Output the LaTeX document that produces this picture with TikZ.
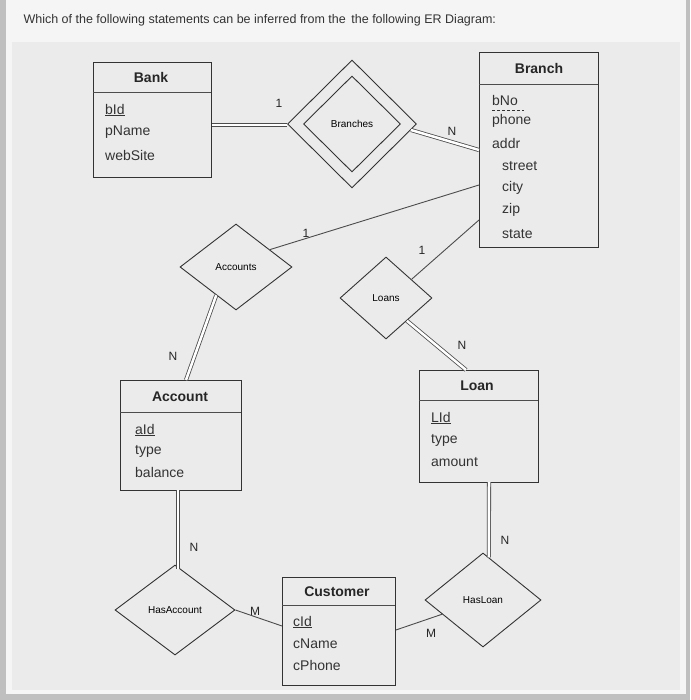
\documentclass[tikz,border=0pt]{standalone}
\usepackage{fontspec}
\setmainfont{Liberation Sans}
\usetikzlibrary{shapes.geometric,calc}
\begin{document}
\begin{tikzpicture}[x=1pt,y=-1pt,
  ent/.style={draw=black!80,line width=0.9pt,anchor=north west,inner sep=0pt},
  rel/.style={diamond,draw=black!80,line width=0.9pt,inner sep=0pt,font=\fontsize{10}{11}\selectfont},
  ttl/.style={font=\fontsize{14}{16}\selectfont\bfseries,text=black!85},
  att/.style={font=\fontsize{14}{16}\selectfont,text=black!80,anchor=west,inner sep=0pt},
  lab/.style={font=\fontsize{12}{13}\selectfont,text=black!85},
  ln/.style={draw=black!70,line width=0.9pt},
  dbl/.style={draw=black!70,line width=0.8pt,double=white,double distance=2.5pt}]
\useasboundingbox (0,0) rectangle (690,700);
\fill[black!25] (0,0) rectangle (690,700);
\fill[white!96!black] (6,0) rectangle (686,694);
\fill[white!92!black] (12,42) rectangle (680,690);
\node[anchor=west,font=\fontsize{12.5}{14}\selectfont,text=black!80] (q) at (20,20) {Which of the following statements can be inferred from the\, the following ER Diagram:};
% Entities
\node[ent,minimum width=118,minimum height=115] (bank) at (93,62) {};
\draw[ln] (93,92) -- (211,92);
\node[ttl] (bankt) at (151,77) {Bank};
\node[att] (b1) at (105,110) {\underline{bId}};
\node[att] (b2) at (105,132) {pName};
\node[att] (b3) at (105,155) {webSite};
\node[ent,minimum width=119,minimum height=195] (branch) at (479,52) {};
\draw[ln] (479,84) -- (598,84);
\node[ttl] (brt) at (539,68) {Branch};
\node[att] (r1) at (492,100) {bNo};
\draw[black!80,dash pattern=on 3pt off 2pt,line width=0.7pt] (492,110) -- (524,110);
\node[att] (r2) at (492,121) {phone};
\node[att] (r3) at (492,143) {addr};
\node[att] (r4) at (502,166) {street};
\node[att] (r5) at (502,188) {city};
\node[att] (r6) at (502,210) {zip};
\node[att] (r7) at (502,234) {state};
\node[ent,minimum width=121,minimum height=110] (account) at (120,380) {};
\draw[ln] (120,412) -- (241,412);
\node[ttl] (acct) at (180,397) {Account};
\node[att] (a1) at (135,430) {\underline{aId}};
\node[att] (a2) at (135,451) {type};
\node[att] (a3) at (135,472) {balance};
\node[ent,minimum width=119,minimum height=112] (loan) at (419,370) {};
\draw[ln] (419,400) -- (538,400);
\node[ttl] (loant) at (477,386) {Loan};
\node[att] (l1) at (431,418) {\underline{LId}};
\node[att] (l2) at (431,440) {type};
\node[att] (l3) at (431,462) {amount};
\node[ent,minimum width=113,minimum height=108] (cust) at (282,577) {};
\draw[ln] (282,605) -- (395,605);
\node[ttl] (custt) at (337,592) {Customer};
\node[att] (c1) at (293,622) {\underline{cId}};
\node[att] (c2) at (293,644) {cName};
\node[att] (c3) at (293,665) {cPhone};
% Relationships
\node[rel,minimum width=129,minimum height=128] (branchesO) at (352,124) {};
\node[rel,minimum width=97,minimum height=96] (branches) at (352,124) {Branches};
\node[rel,minimum width=112,minimum height=86] (accounts) at (236,267) {Accounts};
\node[rel,minimum width=92,minimum height=82] (loans) at (386,298) {Loans};
\node[rel,minimum width=120,minimum height=90] (hasacc) at (175,610) {HasAccount};
\node[rel,minimum width=116,minimum height=94] (hasloan) at (483,600) {HasLoan};
% Connectors
\draw[dbl] (bank.east |- 0,125) -- (branchesO.west |- 0,125);
\node[lab] at (279,103) {1};
\draw[dbl] ($(branchesO.east)+(-6,6)$) -- (branch.west |- 0,150);
\node[lab] at (452,131) {N};
\draw[ln] ($(accounts.north)!0.6!(accounts.east)$) -- (branch.west |- 0,185);
\node[lab] at (306,233) {1};
\draw[dbl] ($(accounts.south)!0.35!(accounts.west)$) -- (186,380);
\node[lab] at (173,356) {N};
\draw[ln] ($(loans.north)!0.55!(loans.east)$) -- (branch.west |- 0,220);
\node[lab] at (422,250) {1};
\draw[dbl] ($(loans.south)!0.45!(loans.east)$) -- (466,370);
\node[lab] at (462,345) {N};
\draw[dbl] (178,490) -- ($(hasacc.north)+(3,4)$);
\node[lab] at (194,547) {N};
\draw[ln] (hasacc.east) -- (cust.west |- 0,626);
\node[lab] at (255,611) {M};
\draw[dbl] (489,482) -- ($(hasloan.north)!0.1!(hasloan.east)$);
\node[lab] at (505,540) {N};
\draw[ln] ($(hasloan.west)!0.3!(hasloan.south)$) -- (cust.east |- 0,630);
\node[lab] at (431,633) {M};
\end{tikzpicture}
\end{document}
